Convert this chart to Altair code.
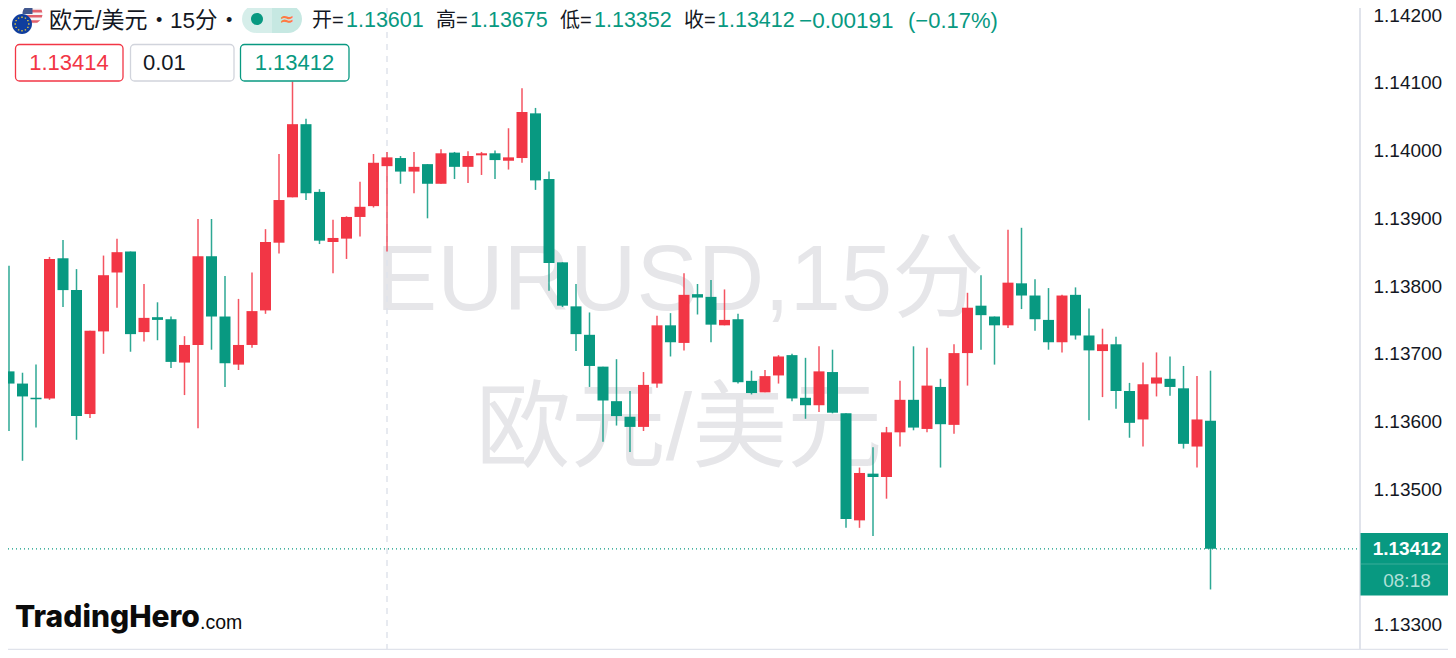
import math
import altair as alt
import pandas as pd

# prices in 1e-5 units
opens = [113674,113656,113635,113634,113841,113794,113611,113733,113820,113851,
113732,113754,113751,113687,113713,113844,113755,113684,113713,113764,
113864,113931,114039,113939,113865,113870,113902,113918,113977,113989,
113969,113980,113951,113997,113976,113993,113996,113985,113989,114055,
113958,113835,113770,113728,113681,113630,113607,113592,113656,113742,
113716,113788,113784,113742,113751,113660,113643,113668,113698,113635,
113624,113673,113612,113454,113523,113518,113584,113632,113589,113651,
113595,113701,113771,113755,113742,113804,113786,113750,113717,113787,
113727,113704,113714,113645,113603,113656,113663,113649,113563,113601]
highs = [113830,113672,113684,113843,113868,113825,113734,113845,113870,113851,
113803,113776,113755,113726,113899,113899,113815,113781,113820,113884,
113995,114102,114047,113943,113898,113903,113954,113995,113998,113992,
113998,113980,114002,113998,113999,113998,114000,114033,114092,114063,
113969,113835,113803,113761,113681,113692,113645,113673,113756,113760,
113819,113803,113809,113795,113759,113675,113676,113698,113700,113694,
113711,113706,113612,113532,113562,113592,113660,113711,113709,113663,
113714,113790,113816,113755,113883,113886,113810,113797,113787,113798,
113767,113737,113725,113657,113687,113702,113696,113682,113667,113675]
lows = [113586,113542,113591,113632,113769,113573,113605,113700,113768,113703,
113718,113720,113679,113639,113590,113706,113651,113676,113709,113759,
113848,113931,113927,113862,113819,113840,113873,113916,113851,113951,
113937,113900,113951,113958,113952,113964,113958,113972,113982,113942,
113793,113769,113704,113651,113570,113594,113555,113586,113650,113696,
113705,113758,113717,113742,113656,113640,113643,113656,113630,113604,
113614,113612,113443,113443,113431,113486,113563,113587,113584,113532,
113582,113653,113706,113684,113738,113766,113734,113706,113702,113721,
113602,113636,113619,113576,113563,113637,113638,113560,113532,113352]
closes = [113656,113637,113633,113840,113794,113608,113734,113816,113850,113729,
113753,113750,113688,113713,113844,113755,113686,113713,113763,113865,
113927,114039,113937,113867,113871,113902,113917,113982,113990,113969,
113976,113951,113996,113976,113992,113996,113986,113990,114057,113956,
113834,113771,113729,113682,113631,113608,113592,113654,113742,113717,
113787,113783,113743,113750,113658,113642,113667,113696,113634,113624,
113674,113613,113456,113524,113518,113584,113632,113591,113653,113596,
113701,113768,113757,113742,113805,113786,113751,113717,113786,113727,
113705,113714,113645,113598,113655,113665,113651,113567,113603,113412]
tick_prices = [1.142, 1.141, 1.140, 1.139, 1.138, 1.137, 1.136, 1.135, 1.133]
last_price = 1.13412

RED = "#f23645"
GREEN = "#089981"
INK = "#131722"
GRID = "#e0e3eb"
LATIN = "Liberation Sans"
CJK = "Liberation Sans, Noto Sans CJK SC"

df = pd.DataFrame({
    "i": range(len(opens)),
    "open": [v / 1e5 for v in opens],
    "high": [v / 1e5 for v in highs],
    "low": [v / 1e5 for v in lows],
    "close": [v / 1e5 for v in closes],
})
df["dir"] = ["up" if c > o else "down" for o, c in zip(opens, closes)]

xs = alt.Scale(domain=[-0.074074, 106.592593], nice=False, zero=False, padding=0)
ys = alt.Scale(domain=[1.132626, 1.1421054], nice=False, zero=False, padding=0)
cs = alt.Scale(domain=["up", "down"], range=[RED, GREEN])
one = alt.Data(values=[{"a": 1}])


def X(px):
    return alt.value(px - 8)


def Y(px):
    return alt.value(px - 8)


def text(s, x, y, size=18, color=INK, align="left", font=LATIN, **kw):
    return alt.Chart(one).mark_text(text=s, fontSize=size, color=color, align=align,
                                    baseline="middle", font=font, **kw).encode(x=X(x), y=Y(y))


def box(x0, x1, y0, y1, fill="white", stroke=None, sw=1.0, **kw):
    opts = dict(fill=fill, **kw)
    if stroke:
        opts.update(stroke=stroke, strokeWidth=sw)
    return alt.Chart(one).mark_rect(**opts).encode(x=X(x0), x2=X(x1), y=Y(y0), y2=Y(y1))


def line(x0, x1, y0, y1, color, sw=1.0, **kw):
    return alt.Chart(one).mark_rule(color=color, strokeWidth=sw, **kw).encode(
        x=X(x0), x2=X(x1), y=Y(y0), y2=Y(y1))


def symbol(path, x, y, r, color):
    return alt.Chart(one).mark_point(shape=path, filled=True, fill=color, stroke=None,
                                     opacity=1, size=4 * r * r).encode(x=X(x), y=Y(y))


# shapes of the two flags (unit square -1..1)
stripes = ""
for a, b in [(-0.95, -0.68), (-0.42, -0.16), (0.1, 0.36), (0.62, 0.88)]:
    wa, wb = math.sqrt(1 - a * a), math.sqrt(1 - b * b)
    stripes += f"M{-wa:.3f},{a}L{wa:.3f},{a}L{wb:.3f},{b}L{-wb:.3f},{b}Z"
canton = "M0,-1L0,0L-1,0A1,1 0 0 1 0,-1Z"
stars = ""
for k in range(12):
    t = k * math.pi / 6
    cx, cy = 0.68 * math.cos(t), 0.68 * math.sin(t)
    stars += f"M{cx-.07:.3f},{cy-.07:.3f}h.14v.14h-.14Z"
disc = "M-1,0A1,1 0 1 1 1,0A1,1 0 1 1 -1,0Z"

wm_color = "#e6e6e9"
watermark = [
    text("EURUSD,15分", 680, 282, size=92, color=wm_color, align="center", font=CJK),
    text("欧元/美元", 679, 431, size=95, color=wm_color, align="center", font=CJK),
]

guides = [
    alt.Chart(one).mark_rule(color=GRID, strokeWidth=1.5, strokeDash=[6, 6]).encode(
        x=X(387), y=Y(8), y2=Y(650)),
]

wicks = alt.Chart(df).mark_rule(strokeWidth=1.5, opacity=0.85).encode(
    x=alt.X("i:Q", scale=xs, axis=None),
    y=alt.Y("high:Q", scale=ys, axis=alt.Axis(
        orient="right", offset=-75, values=tick_prices, format=".5f", title=None,
        domain=False, ticks=False, grid=False, labelPadding=0, labelFontSize=19,
        labelColor=INK, labelFont=LATIN, labelAlign="left", labelBaseline="middle",
        labelOverlap=False, labelFlush=False)),
    y2="low:Q",
    color=alt.Color("dir:N", scale=cs, legend=None),
)
bodies = alt.Chart(df).mark_bar(size=11).encode(
    x=alt.X("i:Q", scale=xs, axis=None),
    y=alt.Y("open:Q", scale=ys),
    y2="close:Q",
    color=alt.Color("dir:N", scale=cs, legend=None),
)
price_line = alt.Chart(alt.Data(values=[{"p": last_price}])).mark_rule(
    color=GREEN, strokeWidth=1.3, strokeDash=[1, 3]).encode(
    x=X(8), x2=X(1359), y=alt.Y("p:Q", scale=ys))

frame = [
    line(1360, 1360, 8, 650, GRID, 2),
    line(8, 1448, 649.5, 649.5, GRID, 1.5),
    box(1360.5, 1448, 533, 595.5, fill=GREEN),
    line(1361, 1448, 564, 564, "#3aad9a", 1),
    text("1.13412", 1407, 549, size=19, color="white", align="center", fontWeight="bold"),
    text("08:18", 1407, 580.5, size=19, color="#b0e0d8", align="center"),
]

header = [
    symbol(disc, 32.5, 14, 10, "#f6f6f8"),
    symbol(stripes, 32.5, 14, 10, "#e2606c"),
    symbol(canton, 32.5, 14, 10, "#42588f"),
    symbol(disc, 22, 24, 10, "#0f3e9e"),
    symbol(stars, 22, 24, 10, "#e9c93b"),
    text("欧元/美元", 49, 21, size=23, font=CJK),
    text("•", 156, 21, size=18),
    text("15分", 170, 21, size=22.5, font=CJK),
    text("•", 226, 21, size=18),
    box(242, 272, 5, 33, fill="#d6eeea", cornerRadiusTopLeft=14, cornerRadiusBottomLeft=14),
    box(272, 302, 5, 33, fill="#c6e8e2", cornerRadiusTopRight=14, cornerRadiusBottomRight=14),
    symbol(disc, 257, 19, 6, GREEN),
    text("≈", 287, 20, size=18, color="#ff7a45", align="center", fontWeight="bold", font="DejaVu Sans"),
    text("开=", 312, 20.5, size=20, font=CJK),
    text("1.13601", 346, 20.5, size=21.5, color=GREEN),
    text("高=", 436, 20.5, size=20, font=CJK),
    text("1.13675", 470, 20.5, size=21.5, color=GREEN),
    text("低=", 560, 20.5, size=20, font=CJK),
    text("1.13352", 594, 20.5, size=21.5, color=GREEN),
    text("收=", 684, 20.5, size=20, font=CJK),
    text("1.13412", 717, 20.5, size=21.5, color=GREEN),
    text("−0.00191", 799, 20.5, size=22.5, color=GREEN),
    text("(−0.17%)", 908, 20.5, size=22, color=GREEN),
    box(15.5, 123, 44.5, 81, stroke=RED, sw=1.3, cornerRadius=4),
    box(130.5, 234, 44.5, 81, stroke="#d1d4dc", sw=1.3, cornerRadius=4),
    box(240.5, 349, 44.5, 81, stroke=GREEN, sw=1.3, cornerRadius=4),
    text("1.13414", 69, 62.5, size=22, color=RED, align="center"),
    text("0.01", 143, 62.5, size=22),
    text("1.13412", 294.5, 62.5, size=22, color=GREEN, align="center"),
    text("TradingHero", 15, 618, size=30, color="#0b0b0b", font="Inter", fontWeight=800),
    text(".com", 200, 623, size=19.5, color="#0b0b0b", font=LATIN),
]

chart = alt.layer(*watermark, *guides, price_line, wicks, bodies, *frame, *header).properties(
    width=1440, height=642, padding=0, autosize=alt.AutoSizeParams(type="none"),
    background="white",
).configure_view(stroke=None)

chart.save("out.html", embed_options={"renderer": "svg", "actions": False})
